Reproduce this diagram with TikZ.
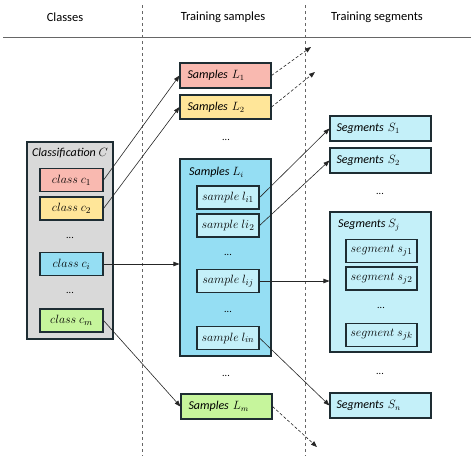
\documentclass[tikz,border=0pt]{standalone}
\usepackage{fontspec}
\setmainfont{Carlito}
\usetikzlibrary{arrows.meta,positioning,calc}
\definecolor{pinkC}{HTML}{F9B9B0}
\definecolor{yellowC}{HTML}{FFE699}
\definecolor{blueC}{HTML}{95DEF3}
\definecolor{lightC}{HTML}{C4F0F9}
\definecolor{greenC}{HTML}{C6F59C}
\definecolor{grayC}{HTML}{D9D9D9}
\definecolor{edgeC}{HTML}{1E2D33}

\begin{document}
\begin{tikzpicture}[x=1pt,y=-1pt,
	box/.style={draw=edgeC, line width=1.1pt, inner sep=0pt, anchor=center},
	smallbox/.style={box, minimum width=63pt, minimum height=23pt, font=\fontsize{12.5}{14}\selectfont},
	sambox/.style={box, minimum width=91pt, minimum height=25pt, text width=76pt, align=left, font=\fontsize{12}{14}\selectfont\itshape},
	segbox/.style={box, fill=lightC, minimum width=101pt, minimum height=25pt, text width=88pt, align=left, font=\fontsize{12}{14}\selectfont\itshape},
	inbox/.style={box, fill=lightC, minimum height=23pt, font=\fontsize{12.5}{14}\selectfont},
	lab/.style={anchor=west, inner sep=0pt, font=\fontsize{12}{14}\selectfont\itshape},
	dots/.style={inner sep=0pt, font=\fontsize{10}{11}\selectfont},
	head/.style={inner sep=0pt, font=\fontsize{12.5}{14}\selectfont},
	arr/.style={-{Triangle[length=6pt,width=4.5pt]}, line width=0.6pt, black!85},
	darr/.style={arr, densely dashed}]
	\useasboundingbox (0,0) rectangle (474,459);
	% headings and separators
	\node[head] (hcls) at (65,17) {Classes};
	\node[head] (hsam) at (223,17) {Training samples};
	\node[head] (hseg) at (377,17) {Training segments};
	\draw[black!60, line width=0.8pt] (3,37) -- (471,37);
	\draw[black!60, dashed, line width=0.6pt] (142,5) -- (142,456);
	\draw[black!60, dashed, line width=0.6pt] (305,5) -- (305,456);
	% classes
	\node[box, fill=grayC, minimum width=86pt, minimum height=197pt] (C) at (70,240.5) {};
	\node[lab, anchor=center] (Clab) at (70,153) {Classification $C$};
	\node[smallbox, fill=pinkC] (c1) at (71.5,180) {$class\ c_1$};
	\node[smallbox, fill=yellowC] (c2) at (71.5,208.5) {$class\ c_2$};
	\node[dots] (cd1) at (70,238) {...};
	\node[smallbox, fill=blueC] (ci) at (71.5,264) {$class\ c_i$};
	\node[dots] (cd2) at (70,293) {...};
	\node[smallbox, fill=greenC] (cm) at (71.5,320.5) {$class\ c_m$};
	% samples
	\node[sambox, fill=pinkC] (L1) at (225.5,75.5) {Samples $L_1$};
	\node[sambox, fill=yellowC, minimum height=24pt] (L2) at (225.5,107) {Samples $L_2$};
	\node[dots] (Ld1) at (226,140) {...};
	\node[box, fill=blueC, minimum width=91pt, minimum height=197pt] (Li) at (225.5,257.5) {};
	\node[lab] (Lilab) at (189,172) {Samples $L_i$};
	\node[inbox, minimum width=62pt] (li1) at (228,197.5) {$sample\ l_{i1}$};
	\node[inbox, minimum width=62pt] (li2) at (228,225.5) {$sample\ li_2$};
	\node[dots] (ld1) at (228,255) {...};
	\node[inbox, minimum width=62pt] (lij) at (228,281) {$sample\ l_{ij}$};
	\node[dots] (ld2) at (228,312) {...};
	\node[inbox, minimum width=62pt] (lin) at (228,338) {$sample\ l_{in}$};
	\node[dots] (Ld2) at (226,376) {...};
	\node[sambox, fill=greenC] (Lm) at (226.5,406.5) {Samples $L_m$};
	% segments
	\node[segbox] (S1) at (380.5,128.5) {Segments $S_1$};
	\node[segbox] (S2) at (380.5,160.5) {Segments $S_2$};
	\node[dots] (Sd1) at (380,194) {...};
	\node[box, fill=lightC, minimum width=101pt, minimum height=140pt] (Sj) at (380.5,282) {};
	\node[lab] (Sjlab) at (338,225) {Segments $S_j$};
	\node[inbox, minimum width=71pt] (sj1) at (381.5,251) {$segment\ s_{j1}$};
	\node[inbox, minimum width=71pt] (sj2) at (381.5,278.5) {$segment\ s_{j2}$};
	\node[dots] (sd1) at (381,308) {...};
	\node[inbox, minimum width=71pt] (sjk) at (381.5,335) {$segment\ s_{jk}$};
	\node[dots] (Sd2) at (380,374) {...};
	\node[segbox] (Sn) at (380.5,405.5) {Segments $S_n$};
	% open ends of the dashed arrows
	\coordinate (e1) at (311,47);
	\coordinate (e2) at (315,72);
	\coordinate (em) at (317,447);
	% connectors
	\draw[arr] (c1.east) -- (L1.west);
	\draw[arr] (c2.east) -- (L2.west);
	\draw[arr] (ci.east) -- (ci -| Li.west);
	\draw[arr] (cm.east) -- (Lm.west);
	\draw[arr] (li1.east) -- (S1.west);
	\draw[arr] (li2.east) -- (S2.west);
	\draw[arr] (lij.east) -- (lij -| Sj.west);
	\draw[arr] (lin.east) -- (Sn.west);
	\draw[darr] (L1.east) -- (e1);
	\draw[darr] (L2.east) -- (e2);
	\draw[darr] (Lm.east) -- (em);
\end{tikzpicture}
\end{document}
